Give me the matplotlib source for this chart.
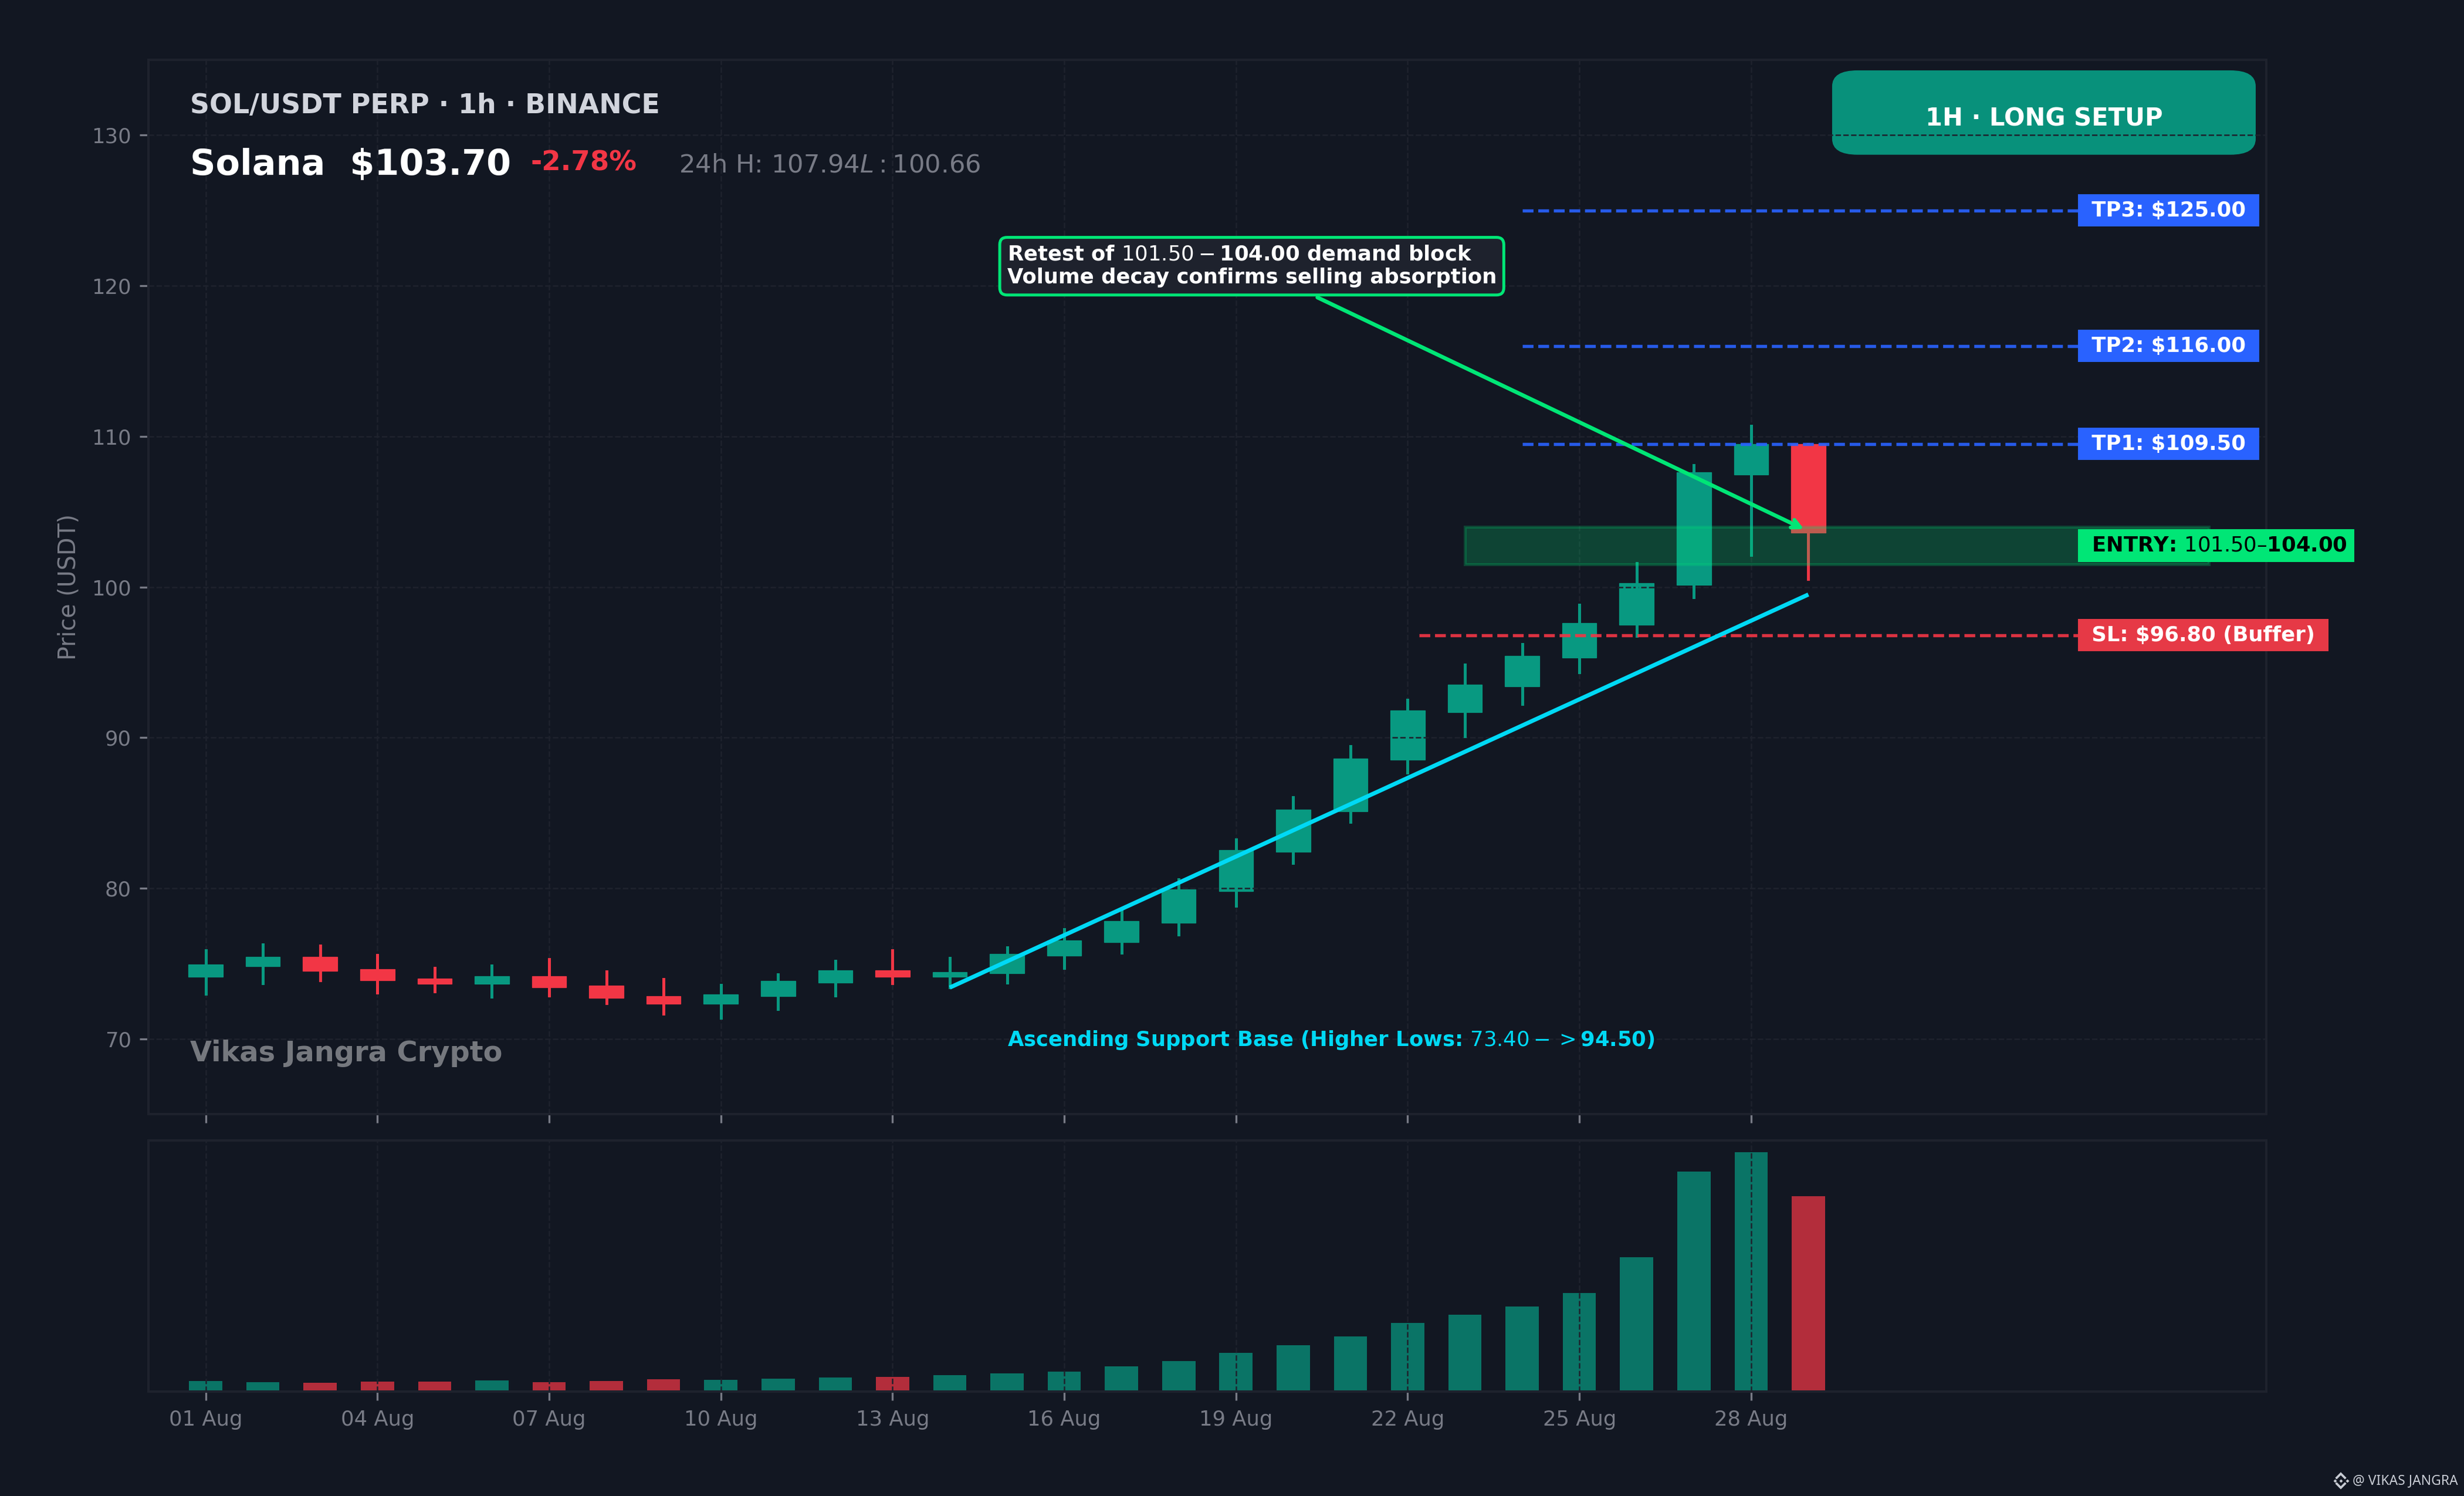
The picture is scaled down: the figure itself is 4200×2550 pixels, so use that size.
import matplotlib
matplotlib.use('Agg')
from matplotlib import pyplot as plt
from matplotlib.lines import Line2D
from matplotlib.patches import Rectangle, FancyBboxPatch

# candles, one per day from 01 Aug
opens = [74.1, 74.82, 75.44, 74.62, 74.0, 73.65, 74.16, 73.53, 72.83, 72.32,
         72.83, 73.73, 74.55, 74.12, 74.33, 75.53, 76.42, 77.71, 79.81, 82.42,
         85.09, 88.51, 91.69, 93.41, 95.31, 97.5, 100.14, 107.47, 109.5]
closes = [74.94, 75.44, 74.51, 73.88, 73.65, 74.16, 73.42, 72.71, 72.32, 72.95,
          73.84, 74.55, 74.12, 74.44, 75.64, 76.53, 77.83, 79.92, 82.53, 85.21,
          88.62, 91.81, 93.52, 95.42, 97.6, 100.27, 107.6, 109.5, 103.6]
highs = [75.87, 76.26, 76.18, 75.56, 74.7, 74.86, 75.29, 74.47, 73.96, 73.57,
         74.27, 75.17, 75.87, 75.35, 76.06, 77.27, 78.47, 80.57, 83.24, 86.03,
         89.42, 92.52, 94.82, 96.22, 98.81, 101.57, 108.09, 110.68, 109.5]
lows = [72.99, 73.69, 73.88, 73.06, 73.14, 72.79, 72.87, 72.36, 71.66, 71.39,
        71.97, 72.87, 73.69, 73.43, 73.72, 74.7, 75.71, 76.91, 78.81, 81.68,
        84.4, 87.66, 90.07, 92.23, 94.35, 96.75, 99.3, 102.12, 100.53]
volumes = [4.4, 3.95, 3.76, 4.23, 4.23, 4.7, 3.95, 4.42, 5.17, 4.98,
           5.45, 5.92, 6.2, 6.96, 7.6, 8.37, 10.6, 12.8, 16.2, 19.4,
           23.1, 28.7, 32.2, 35.6, 41.3, 56.2, 91.9, 100.0, 81.6]

tick_days = [0, 3, 6, 9, 12, 15, 18, 21, 24, 27]
tick_labels = ['01 Aug', '04 Aug', '07 Aug', '10 Aug', '13 Aug',
               '16 Aug', '19 Aug', '22 Aug', '25 Aug', '28 Aug']
price_ticks = [70, 80, 90, 100, 110, 120, 130]

tp_levels = [125.0, 116.0, 109.5]
tp_labels = [' TP3: \\$125.00 ', ' TP2: \\$116.00 ', ' TP1: \\$109.50 ']
sl_level = 96.8
entry_low = 101.5
entry_high = 104.0
trend_x = [13, 28]
trend_y = [73.4, 99.5]

BG = '#121722'
GRID = '#1E222D'
GREY = '#787B86'
GREEN = '#089981'
RED = '#F23645'
BLUE = '#2962FF'
LIME = '#00E676'
CYAN = '#00D9F5'
LOGO = '#C8CCD4'
FW = 4200
FH = 2550

fig = plt.figure(figsize=(14, 8.5), dpi=300, facecolor=BG)
ax = fig.add_axes([253 / FW, 1 - 1899 / FH, 3610 / FW, 1797 / FH], facecolor=BG)
vax = fig.add_axes([253 / FW, 1 - 2372 / FH, 3610 / FW, 428 / FH], facecolor=BG)

for a in (ax, vax):
    for s in a.spines.values():
        s.set_color(GRID)
        s.set_linewidth(1.0)
    a.set_xlim(-1, 36)
    a.set_xticks(tick_days)
    a.tick_params(colors=GREY, labelsize=8.5)
    a.grid(True, axis='x', color=GRID, linestyle='--', linewidth=0.6)

ax.set_ylim(65, 135)
ax.set_yticks(price_ticks)
ax.grid(True, axis='y', color=GRID, linestyle='--', linewidth=0.6)
ax.set_xticklabels([])
ax.set_ylabel('Price (USDT)', color=GREY, fontsize=9.5, labelpad=4.5)

vax.set_ylim(0, 105)
vax.set_yticks([])
vax.set_xticklabels(tick_labels)
vax.tick_params(axis='x', pad=4)

# candles
for i in range(len(opens)):
    col = GREEN if closes[i] >= opens[i] else RED
    ax.plot([i, i], [lows[i], highs[i]], color=col, linewidth=1.2, zorder=2)
    ax.add_patch(Rectangle((i - 0.3, min(opens[i], closes[i])), 0.6,
                           abs(closes[i] - opens[i]), facecolor=col,
                           edgecolor=col, linewidth=0.3, zorder=1.5))

# volume
vol_cols = [GREEN if closes[i] >= opens[i] else RED for i in range(len(opens))]
vax.bar(range(len(volumes)), volumes, width=0.58, color=vol_cols, alpha=0.72)

# entry zone
ax.add_patch(Rectangle((22, entry_low), 13, entry_high - entry_low,
                       facecolor=LIME, edgecolor=LIME, alpha=0.22,
                       linewidth=1.2, zorder=3))

# levels
dash = (0, (3.4, 1.5))
for level, label in zip(tp_levels, tp_labels):
    ax.plot([23, 33], [level, level], color=BLUE, linestyle=dash, linewidth=1.3,
            alpha=0.9, zorder=3)
    ax.text(32.82, level, label, color='white', fontsize=8.5, fontweight='bold',
            va='center', ha='left', zorder=6,
            bbox=dict(boxstyle='square,pad=0.3', facecolor=BLUE, edgecolor='none'))
ax.plot([21.2, 33], [sl_level, sl_level], color=RED, linestyle=dash, linewidth=1.3,
        alpha=0.9, zorder=3)
ax.text(32.82, sl_level, ' SL: \\$96.80 (Buffer) ', color='white', fontsize=8.5,
        fontweight='bold', va='center', ha='left', zorder=6,
        bbox=dict(boxstyle='square,pad=0.3', facecolor='#E63946', edgecolor='none'))
ax.text(32.82, 102.75, ' ENTRY: $101.50–$104.00 ', color='black', fontsize=8.5,
        fontweight='bold', va='center', ha='left', zorder=6,
        bbox=dict(boxstyle='square,pad=0.3', facecolor=LIME, edgecolor='none'))

# trend line
ax.plot(trend_x, trend_y, color=CYAN, linewidth=1.7, zorder=4, solid_capstyle='butt')
ax.text(14, 69.9, 'Ascending Support Base (Higher Lows: $73.40 -> $94.50)', color=CYAN,
        fontsize=8.5, fontweight='bold', va='center', ha='left', zorder=6)

# annotation
ax.annotate('Retest of $101.50-$104.00 demand block\nVolume decay confirms selling absorption',
            xy=(28, 103.7), xytext=(14, 121.3), color='white', fontsize=8.5,
            fontweight='bold', va='center', ha='left', zorder=7,
            bbox=dict(boxstyle='round,pad=0.35', facecolor='#1E222D', edgecolor=LIME, linewidth=1.2),
            arrowprops=dict(arrowstyle='->', color=LIME, linewidth=1.6))

# header
ax.text(0.0197, 0.9565, 'SOL/USDT PERP · 1h · BINANCE', transform=ax.transAxes, color='#D1D4DC',
        fontsize=11, fontweight='bold', va='center', ha='left')
ax.text(0.0197, 0.9, 'Solana  \\$103.70', transform=ax.transAxes, color='white',
        fontsize=14.5, fontweight='bold', va='center', ha='left')
ax.text(0.1805, 0.902, '-2.78%', transform=ax.transAxes, color=RED,
        fontsize=11.2, fontweight='bold', va='center', ha='left')
ax.text(0.2505, 0.9, '24h H: $107.94 L: $100.66', transform=ax.transAxes, color=GREY,
        fontsize=10.4, va='center', ha='left')
ax.text(0.0197, 0.0575, 'Vikas Jangra Crypto', transform=ax.transAxes, color='white', alpha=0.42,
        fontsize=11.5, fontweight='bold', va='center', ha='left')

# badge
ax.add_patch(FancyBboxPatch((0.795, 0.91), 0.2, 0.08, transform=ax.transAxes,
                            boxstyle='round,pad=0,rounding_size=0.012', mutation_aspect=1.25,
                            facecolor=GREEN, edgecolor='none', alpha=0.95, zorder=1))
ax.text(0.895, 0.944, '1H · LONG SETUP', transform=ax.transAxes, color='white',
        fontsize=10, fontweight='bold', va='center', ha='center', zorder=6)

# corner mark: small diamond logo and handle
def logo_xy(dx, dy):
    return (3990 + dx) / FW, 1 - (2524 + dy) / FH

for dx, dy in [(0, 0), (-10.5, 0), (10.5, 0)]:
    mx, my = logo_xy(dx, dy)
    fig.add_artist(Line2D([mx], [my], marker='D', markersize=1.0, color=LOGO,
                          linestyle='none', markeredgewidth=0, transform=fig.transFigure))
for sign in (-1, 1):
    pts = [logo_xy(-7, sign * 5), logo_xy(0, sign * 12), logo_xy(7, sign * 5)]
    fig.add_artist(Line2D([p[0] for p in pts], [p[1] for p in pts], color=LOGO, linewidth=0.9,
                          solid_joinstyle='miter', transform=fig.transFigure))
fig.text(4010 / FW, 1 - 2524 / FH, '@ VIKAS JANGRA', color=LOGO, fontsize=5.5, family='Noto Sans',
         va='center', ha='left')

fig.savefig('out.png', facecolor=BG)
